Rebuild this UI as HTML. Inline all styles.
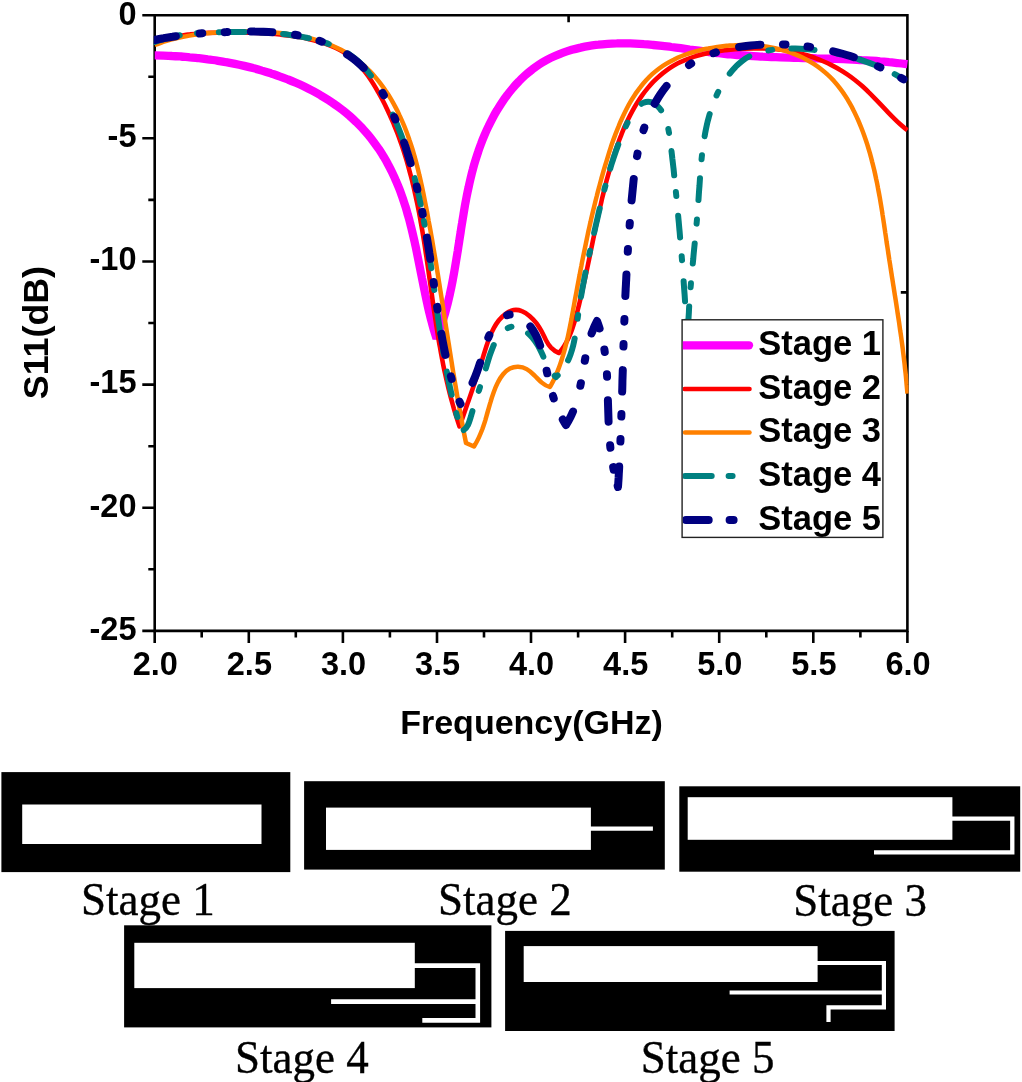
<!DOCTYPE html>
<html><head><meta charset="utf-8"><title>S11 vs Frequency</title>
<style>
html,body{margin:0;padding:0;background:#fff;}
body{width:1022px;height:1082px;overflow:hidden;position:relative;}
svg{position:absolute;left:0;top:0;display:block;}
.ax{font-family:"Liberation Sans",Arial,sans-serif;font-weight:bold;fill:#000;}
.st{font-family:"Liberation Serif","Times New Roman",serif;fill:#000;}
</style></head><body>
<svg width="1022" height="1082" viewBox="0 0 1022 1082">
<rect x="0" y="0" width="1022" height="1082" fill="#fff"/>
<defs><clipPath id="plot"><rect x="153.8" y="14" width="754.8" height="618"/></clipPath></defs>
<g stroke="#000" stroke-width="2.6" fill="none" stroke-linecap="butt">
<path d="M154.7 15.2 H907.4 V630.9 H154.7 Z"/>
<path d="M142.3 15.2 H154.7 M142.3 138.3 H154.7 M142.3 261.5 H154.7 M142.3 384.6 H154.7 M142.3 507.8 H154.7 M142.3 630.9 H154.7 M148.3 76.8 H154.7 M148.3 199.9 H154.7 M148.3 323.0 H154.7 M148.3 446.2 H154.7 M148.3 569.3 H154.7 M154.7 630.9 V643 M248.8 630.9 V643 M342.9 630.9 V643 M437.0 630.9 V643 M531.0 630.9 V643 M625.1 630.9 V643 M719.2 630.9 V643 M813.3 630.9 V643 M907.4 630.9 V643 M201.7 630.9 V637.6 M295.8 630.9 V637.6 M389.9 630.9 V637.6 M484.0 630.9 V637.6 M578.1 630.9 V637.6 M672.2 630.9 V637.6 M766.3 630.9 V637.6 M860.4 630.9 V637.6 M568.6 15.2 V22.3 M900.8 292.4 H907.4"/>
</g>
<g clip-path="url(#plot)" fill="none" stroke-linejoin="round">
<path d="M154.7 55.4C157.5 55.4 160.4 55.5 163.3 55.6C166.2 55.7 169.1 55.8 172.0 56.0C175.0 56.1 177.9 56.3 180.9 56.5C183.8 56.8 186.8 57.0 189.8 57.3C192.8 57.5 195.8 57.9 198.8 58.2C201.8 58.5 204.8 58.9 207.8 59.3C210.9 59.7 213.9 60.2 216.9 60.6C219.9 61.1 223.0 61.6 226.0 62.2C229.0 62.7 232.0 63.3 235.0 63.9C238.0 64.5 241.1 65.2 244.1 65.9C247.1 66.6 250.1 67.3 253.0 68.1C256.0 68.9 259.0 69.7 261.9 70.6C264.9 71.5 267.8 72.4 270.8 73.3C273.7 74.3 276.6 75.2 279.5 76.3C282.3 77.3 285.2 78.4 288.0 79.5C290.9 80.6 293.7 81.8 296.5 83.0C299.2 84.2 302.0 85.5 304.7 86.8C307.4 88.1 310.1 89.5 312.8 90.9C315.4 92.3 318.1 93.8 320.6 95.3C323.2 96.8 325.8 98.4 328.3 100.0C330.8 101.6 333.2 103.3 335.6 105.0C338.1 106.7 340.4 108.5 342.8 110.3C345.1 112.1 347.4 114.0 349.6 115.9C351.8 117.9 354.0 119.9 356.1 121.9C358.2 124.0 360.3 126.1 362.3 128.2C364.3 130.4 366.3 132.6 368.2 134.9C370.1 137.2 371.9 139.5 373.7 141.9C375.5 144.3 377.2 146.7 378.9 149.1C380.5 151.6 382.1 154.1 383.7 156.7C385.2 159.2 386.7 161.8 388.1 164.5C389.5 167.1 390.9 169.8 392.2 172.5C393.5 175.2 394.8 177.9 395.9 180.7C397.1 183.5 398.3 186.3 399.4 189.1C400.5 191.9 401.5 194.8 402.5 197.6C403.5 200.5 404.4 203.4 405.4 206.3C406.3 209.2 407.1 212.1 407.9 215.1C408.8 218.0 409.6 220.9 410.3 223.9C411.1 226.8 411.8 229.8 412.5 232.8C413.2 235.8 413.9 238.8 414.6 241.7C415.2 244.7 415.9 247.7 416.5 250.7C417.1 253.7 417.7 256.7 418.3 259.7C418.9 262.7 419.5 265.7 420.1 268.7C420.7 271.7 421.3 274.7 421.9 277.7C422.5 280.7 423.1 283.6 423.7 286.6C424.3 289.6 424.9 292.5 425.5 295.5C426.1 298.4 426.7 301.4 427.4 304.3C428.0 307.2 428.7 310.1 429.4 313.0C430.1 315.9 430.8 318.8 431.6 321.6C432.3 324.5 433.1 327.3 433.9 330.1C434.8 333.0 435.6 335.7 436.5 338.5C437.6 335.7 438.7 332.9 439.7 330.1C440.7 327.2 441.7 324.4 442.6 321.5C443.5 318.7 444.3 315.8 445.2 312.9C446.0 310.0 446.7 307.1 447.5 304.2C448.2 301.3 448.9 298.3 449.6 295.4C450.2 292.4 450.9 289.5 451.5 286.5C452.1 283.5 452.7 280.6 453.2 277.6C453.8 274.6 454.3 271.6 454.8 268.6C455.3 265.6 455.8 262.6 456.3 259.6C456.8 256.6 457.3 253.6 457.8 250.6C458.2 247.6 458.7 244.5 459.2 241.5C459.6 238.5 460.1 235.5 460.6 232.5C461.0 229.4 461.5 226.4 462.0 223.4C462.5 220.4 463.0 217.4 463.5 214.3C464.0 211.3 464.5 208.3 465.0 205.3C465.6 202.3 466.1 199.3 466.7 196.3C467.3 193.3 467.9 190.3 468.6 187.3C469.2 184.4 469.9 181.4 470.6 178.4C471.3 175.5 472.0 172.5 472.8 169.6C473.6 166.6 474.4 163.7 475.3 160.8C476.2 157.9 477.1 155.0 478.1 152.1C479.0 149.2 480.1 146.3 481.2 143.4C482.2 140.6 483.4 137.7 484.6 134.9C485.8 132.1 487.0 129.3 488.4 126.5C489.7 123.8 491.1 121.0 492.5 118.3C493.9 115.6 495.4 112.9 497.0 110.3C498.6 107.7 500.2 105.1 501.9 102.6C503.6 100.1 505.3 97.6 507.2 95.2C509.0 92.7 510.8 90.4 512.8 88.1C514.7 85.8 516.7 83.6 518.8 81.5C520.9 79.3 523.0 77.3 525.2 75.3C527.4 73.3 529.7 71.4 532.1 69.6C534.4 67.8 536.8 66.1 539.3 64.4C541.7 62.8 544.3 61.3 546.9 59.9C549.5 58.5 552.2 57.2 554.9 56.0C557.6 54.8 560.4 53.6 563.2 52.6C566.0 51.6 568.9 50.7 571.8 49.8C574.7 49.0 577.6 48.3 580.6 47.6C583.5 46.9 586.5 46.3 589.5 45.8C592.5 45.4 595.5 44.9 598.6 44.6C601.6 44.2 604.6 44.0 607.6 43.8C610.6 43.6 613.7 43.4 616.7 43.4C619.7 43.3 622.8 43.3 625.8 43.3C628.8 43.4 631.9 43.5 634.9 43.6C637.9 43.8 641.0 44.0 644.0 44.2C647.1 44.4 650.1 44.7 653.2 45.0C656.2 45.3 659.2 45.6 662.3 45.9C665.3 46.3 668.4 46.6 671.4 47.0C674.5 47.4 677.5 47.8 680.6 48.2C683.6 48.6 686.7 49.1 689.7 49.5C692.7 49.9 695.8 50.3 698.8 50.7C701.9 51.1 704.9 51.5 707.9 51.9C711.0 52.3 714.0 52.7 717.0 53.0C720.1 53.4 723.1 53.7 726.1 54.0C729.2 54.3 732.2 54.5 735.2 54.8C738.2 55.0 741.3 55.3 744.3 55.5C747.3 55.7 750.3 55.9 753.3 56.1C756.3 56.3 759.4 56.4 762.4 56.6C765.4 56.7 768.4 56.8 771.4 57.0C774.4 57.1 777.4 57.2 780.4 57.3C783.5 57.4 786.5 57.5 789.5 57.6C792.5 57.7 795.5 57.8 798.5 57.9C801.5 58.0 804.5 58.0 807.5 58.1C810.5 58.2 813.6 58.3 816.6 58.4C819.6 58.4 822.6 58.5 825.6 58.6C828.6 58.7 831.6 58.8 834.6 58.9C837.7 59.0 840.7 59.1 843.7 59.2C846.7 59.4 849.7 59.5 852.7 59.6C855.8 59.8 858.8 59.9 861.8 60.1C864.8 60.3 867.9 60.5 870.9 60.7C873.9 60.9 877.0 61.1 880.0 61.4C883.0 61.6 886.1 61.9 889.1 62.2C892.2 62.4 895.2 62.8 898.2 63.1C901.3 63.4 904.3 63.8 907.4 64.2" stroke="#ff00ff" stroke-width="8.3" stroke-linejoin="bevel"/>
<path d="M154.7 43.0C157.5 41.8 160.4 40.8 163.3 39.9C166.2 39.0 169.1 38.2 172.1 37.5C175.0 36.8 178.0 36.2 181.0 35.7C184.0 35.2 187.0 34.7 190.0 34.4C193.0 34.0 196.1 33.7 199.1 33.5C202.2 33.2 205.2 33.1 208.3 32.9C211.3 32.8 214.4 32.7 217.4 32.7C220.5 32.6 223.5 32.6 226.5 32.6C229.6 32.5 232.6 32.5 235.6 32.6C238.7 32.6 241.7 32.6 244.7 32.6C247.7 32.7 250.7 32.8 253.7 32.8C256.7 32.9 259.7 33.1 262.7 33.2C265.8 33.4 268.8 33.5 271.8 33.8C274.8 34.0 277.8 34.3 280.9 34.6C283.9 34.9 287.0 35.3 290.0 35.7C293.1 36.1 296.1 36.6 299.2 37.1C302.3 37.6 305.3 38.2 308.4 38.9C311.4 39.6 314.4 40.3 317.4 41.2C320.4 42.0 323.3 43.0 326.2 44.0C329.1 45.0 331.9 46.2 334.6 47.5C337.4 48.7 340.0 50.1 342.6 51.6C345.2 53.1 347.7 54.8 350.0 56.5C352.4 58.3 354.7 60.3 356.8 62.3C358.9 64.4 360.9 66.6 362.8 69.0C364.7 71.3 366.6 73.8 368.3 76.3C370.0 78.8 371.7 81.3 373.3 83.9C374.9 86.5 376.5 89.2 378.0 91.8C379.5 94.5 381.0 97.1 382.4 99.8C383.8 102.5 385.2 105.2 386.5 107.9C387.8 110.7 389.1 113.4 390.3 116.2C391.6 119.0 392.8 121.7 393.9 124.5C395.1 127.3 396.2 130.2 397.3 133.0C398.4 135.8 399.4 138.7 400.4 141.5C401.5 144.4 402.4 147.3 403.4 150.2C404.3 153.0 405.2 155.9 406.1 158.9C407.0 161.8 407.8 164.7 408.6 167.6C409.4 170.6 410.2 173.5 411.0 176.5C411.8 179.4 412.5 182.4 413.2 185.3C413.9 188.3 414.6 191.3 415.2 194.3C415.9 197.2 416.5 200.2 417.2 203.2C417.8 206.2 418.4 209.2 419.0 212.2C419.5 215.2 420.1 218.2 420.6 221.2C421.2 224.2 421.7 227.2 422.2 230.2C422.7 233.2 423.2 236.2 423.7 239.2C424.2 242.2 424.7 245.2 425.1 248.3C425.6 251.3 426.0 254.3 426.5 257.3C426.9 260.3 427.4 263.3 427.8 266.3C428.3 269.4 428.7 272.4 429.1 275.4C429.5 278.4 430.0 281.4 430.4 284.4C430.8 287.4 431.2 290.5 431.7 293.5C432.1 296.5 432.5 299.5 432.9 302.5C433.4 305.5 433.8 308.5 434.2 311.5C434.7 314.5 435.1 317.5 435.6 320.5C436.0 323.5 436.5 326.5 437.0 329.5C437.5 332.5 437.9 335.5 438.4 338.5C438.9 341.5 439.4 344.4 440.0 347.4C440.5 350.4 441.0 353.4 441.6 356.3C442.2 359.3 442.7 362.3 443.3 365.2C443.9 368.2 444.5 371.1 445.2 374.1C445.8 377.0 446.5 380.0 447.2 382.9C447.8 385.8 448.5 388.8 449.3 391.7C450.0 394.6 450.8 397.5 451.6 400.4C452.4 403.3 453.2 406.2 454.0 409.1C454.9 412.0 455.7 414.9 456.7 417.8C457.6 420.7 458.5 423.5 459.5 426.4C460.6 423.4 461.7 420.3 462.7 417.4C463.8 414.4 464.8 411.5 465.8 408.6C466.8 405.6 467.8 402.8 468.8 399.9C469.8 397.0 470.8 394.1 471.8 391.2C472.8 388.4 473.8 385.5 474.7 382.6C475.7 379.7 476.7 376.8 477.6 373.8C478.6 370.9 479.6 367.9 480.5 364.9C481.5 361.9 482.5 358.9 483.4 355.8C484.4 352.7 485.4 349.5 486.4 346.3C487.4 343.2 488.5 340.0 489.7 337.0C490.9 333.9 492.3 331.0 493.8 328.2C495.3 325.3 497.0 322.7 498.9 320.3C500.9 317.9 503.1 315.7 505.6 313.9C508.0 312.1 510.8 310.6 513.6 310.1C516.3 309.6 519.1 310.0 521.8 311.1C524.5 312.1 527.1 313.8 529.5 315.9C532.0 318.0 534.3 320.5 536.4 323.2C538.4 326.0 540.2 328.9 541.8 331.7C543.3 334.6 544.6 337.5 546.0 340.2C547.4 342.9 549.0 345.4 551.0 347.6C553.1 349.8 555.6 351.6 559.0 353.0C560.9 350.8 562.6 348.5 564.2 346.0C565.7 343.6 567.1 341.0 568.4 338.3C569.7 335.6 570.8 332.8 571.9 329.9C572.9 327.1 573.8 324.1 574.7 321.2C575.6 318.2 576.4 315.2 577.2 312.2C577.9 309.2 578.7 306.2 579.4 303.2C580.1 300.3 580.8 297.3 581.5 294.3C582.2 291.4 582.8 288.4 583.5 285.5C584.1 282.5 584.8 279.6 585.4 276.7C586.0 273.7 586.7 270.8 587.3 267.9C587.9 265.0 588.5 262.1 589.1 259.2C589.7 256.3 590.3 253.4 590.9 250.5C591.5 247.6 592.1 244.7 592.7 241.8C593.3 238.9 593.9 236.0 594.5 233.1C595.1 230.2 595.7 227.3 596.3 224.3C596.9 221.4 597.6 218.5 598.2 215.6C598.9 212.7 599.5 209.8 600.2 206.8C600.9 203.9 601.5 201.0 602.2 198.0C602.9 195.1 603.7 192.1 604.4 189.2C605.2 186.2 605.9 183.2 606.7 180.2C607.5 177.3 608.3 174.3 609.2 171.3C610.0 168.3 610.9 165.3 611.8 162.3C612.7 159.3 613.6 156.3 614.6 153.3C615.6 150.3 616.6 147.3 617.7 144.4C618.7 141.4 619.8 138.5 621.0 135.6C622.1 132.7 623.3 129.9 624.5 127.0C625.8 124.2 627.1 121.4 628.4 118.7C629.8 115.9 631.2 113.2 632.6 110.6C634.1 107.9 635.6 105.3 637.2 102.8C638.8 100.3 640.4 97.8 642.1 95.4C643.8 93.0 645.6 90.7 647.5 88.4C649.3 86.2 651.2 84.0 653.2 81.9C655.2 79.9 657.3 77.9 659.5 76.0C661.6 74.1 663.9 72.3 666.2 70.6C668.5 68.9 670.9 67.3 673.4 65.8C675.9 64.3 678.5 62.9 681.2 61.7C683.8 60.4 686.6 59.3 689.4 58.3C692.3 57.2 695.2 56.3 698.1 55.5C701.1 54.6 704.1 53.9 707.2 53.2C710.2 52.6 713.3 52.0 716.4 51.5C719.5 51.0 722.7 50.6 725.8 50.2C729.0 49.9 732.1 49.6 735.2 49.3C738.4 49.1 741.5 48.9 744.6 48.7C747.7 48.6 750.8 48.5 753.8 48.4C756.9 48.4 759.9 48.4 762.9 48.5C765.9 48.6 768.9 48.7 771.9 48.9C774.9 49.1 777.9 49.4 780.8 49.8C783.8 50.1 786.7 50.6 789.6 51.1C792.6 51.6 795.5 52.2 798.4 52.9C801.2 53.6 804.1 54.4 807.0 55.2C809.8 56.1 812.7 57.0 815.5 58.1C818.3 59.1 821.1 60.3 823.8 61.5C826.6 62.7 829.3 64.0 832.0 65.4C834.7 66.8 837.3 68.2 839.9 69.8C842.5 71.3 845.1 73.0 847.6 74.7C850.1 76.4 852.5 78.2 854.9 80.0C857.3 81.9 859.6 83.8 861.9 85.8C864.2 87.9 866.4 89.9 868.6 92.1C870.8 94.2 872.9 96.4 875.0 98.6C877.1 100.8 879.2 103.0 881.3 105.2C883.4 107.4 885.5 109.6 887.6 111.8C889.7 114.0 891.8 116.2 894.0 118.3C896.1 120.4 898.3 122.5 900.5 124.5C902.8 126.5 905.1 128.5 907.4 130.3" stroke="#ff0000" stroke-width="4.6"/>
<path d="M154.7 45.0C157.5 43.9 160.4 42.9 163.2 41.9C166.1 41.0 169.0 40.1 171.9 39.4C174.8 38.6 177.7 37.9 180.6 37.3C183.5 36.6 186.4 36.1 189.4 35.6C192.3 35.1 195.3 34.6 198.2 34.2C201.2 33.8 204.2 33.5 207.1 33.2C210.1 32.9 213.1 32.6 216.1 32.4C219.1 32.2 222.1 32.0 225.1 31.9C228.2 31.8 231.2 31.6 234.2 31.6C237.3 31.5 240.3 31.4 243.3 31.4C246.4 31.3 249.4 31.4 252.5 31.4C255.5 31.4 258.6 31.5 261.6 31.7C264.7 31.8 267.8 32.0 270.8 32.2C273.9 32.4 276.9 32.7 279.9 33.0C283.0 33.3 286.0 33.7 289.0 34.2C292.1 34.6 295.1 35.1 298.1 35.7C301.1 36.2 304.1 36.9 307.1 37.6C310.0 38.3 313.0 39.0 315.9 39.9C318.8 40.7 321.7 41.7 324.5 42.7C327.3 43.7 330.1 44.8 332.9 46.0C335.6 47.1 338.3 48.4 341.0 49.8C343.6 51.1 346.2 52.6 348.7 54.1C351.2 55.7 353.7 57.3 356.1 59.1C358.5 60.9 360.8 62.7 363.0 64.7C365.2 66.6 367.4 68.7 369.5 70.8C371.5 72.9 373.6 75.1 375.5 77.4C377.4 79.6 379.3 81.9 381.1 84.3C382.9 86.7 384.6 89.1 386.2 91.6C387.9 94.0 389.5 96.5 391.0 99.1C392.5 101.6 393.9 104.2 395.3 106.9C396.7 109.5 398.1 112.2 399.3 114.9C400.6 117.6 401.8 120.3 403.0 123.1C404.2 125.8 405.3 128.6 406.4 131.5C407.4 134.3 408.5 137.1 409.4 140.0C410.4 142.9 411.4 145.8 412.3 148.7C413.2 151.6 414.0 154.6 414.9 157.5C415.7 160.5 416.5 163.4 417.2 166.4C418.0 169.4 418.7 172.4 419.4 175.4C420.2 178.4 420.8 181.4 421.5 184.4C422.2 187.4 422.8 190.5 423.4 193.5C424.0 196.5 424.6 199.5 425.2 202.6C425.8 205.6 426.4 208.6 427.0 211.6C427.5 214.6 428.1 217.6 428.6 220.6C429.2 223.6 429.7 226.6 430.3 229.6C430.8 232.6 431.3 235.6 431.9 238.6C432.4 241.6 432.9 244.5 433.4 247.5C433.9 250.5 434.4 253.5 434.9 256.4C435.4 259.4 435.9 262.4 436.4 265.3C436.8 268.3 437.3 271.3 437.8 274.2C438.3 277.2 438.7 280.1 439.2 283.1C439.7 286.0 440.1 289.0 440.6 291.9C441.1 294.9 441.5 297.8 442.0 300.8C442.5 303.7 442.9 306.7 443.4 309.6C443.8 312.6 444.3 315.5 444.7 318.4C445.2 321.4 445.6 324.3 446.1 327.3C446.6 330.2 447.0 333.2 447.5 336.1C447.9 339.0 448.4 342.0 448.9 344.9C449.3 347.9 449.8 350.8 450.3 353.8C450.7 356.7 451.2 359.7 451.7 362.6C452.1 365.6 452.6 368.5 453.1 371.5C453.6 374.4 454.1 377.4 454.6 380.3C455.1 383.3 455.6 386.3 456.1 389.2C456.6 392.2 457.1 395.2 457.6 398.1C458.1 401.1 458.7 404.1 459.2 407.0C459.7 410.0 460.3 413.0 460.8 416.0C461.4 419.0 461.9 422.0 462.5 425.0C463.0 428.0 463.6 431.0 464.2 434.0C464.8 437.0 465.4 440.0 466.0 443.0L474.0 446.5C475.8 443.5 477.4 440.6 478.8 437.6C480.1 434.7 481.3 431.8 482.4 429.0C483.4 426.1 484.4 423.2 485.3 420.3C486.1 417.3 487.0 414.4 487.8 411.4C488.7 408.3 489.5 405.3 490.5 402.1C491.4 398.9 492.5 395.5 493.7 392.2C494.9 388.9 496.2 385.6 497.8 382.5C499.3 379.4 501.1 376.6 503.1 374.2C505.1 371.8 507.4 369.9 509.9 368.6C512.5 367.3 515.3 366.7 518.2 366.8C521.1 366.9 524.0 367.6 526.7 369.1C529.4 370.6 532.0 372.9 534.4 375.4C536.9 377.8 539.3 380.5 541.8 382.6C544.4 384.8 547.0 386.4 550.0 387.0C551.4 384.5 552.8 381.9 554.1 379.3C555.3 376.6 556.5 373.9 557.6 371.2C558.7 368.5 559.7 365.7 560.6 362.9C561.6 360.1 562.5 357.2 563.3 354.4C564.2 351.5 564.9 348.6 565.7 345.7C566.4 342.8 567.1 339.8 567.8 336.9C568.5 333.9 569.1 330.9 569.7 327.9C570.3 325.0 570.9 322.0 571.5 319.0C572.0 316.0 572.6 313.0 573.1 310.0C573.7 307.0 574.2 304.0 574.7 301.0C575.3 298.1 575.8 295.1 576.4 292.1C576.9 289.2 577.5 286.2 578.0 283.3C578.6 280.3 579.1 277.4 579.7 274.5C580.2 271.5 580.8 268.6 581.4 265.7C581.9 262.8 582.5 259.9 583.1 256.9C583.7 254.0 584.3 251.1 584.9 248.2C585.5 245.3 586.1 242.4 586.7 239.5C587.3 236.6 587.9 233.7 588.5 230.8C589.2 227.9 589.8 225.0 590.5 222.1C591.1 219.2 591.8 216.3 592.5 213.4C593.2 210.5 593.9 207.6 594.6 204.7C595.3 201.8 596.0 198.9 596.8 196.0C597.5 193.1 598.3 190.1 599.1 187.2C599.8 184.3 600.6 181.4 601.4 178.5C602.3 175.5 603.1 172.6 603.9 169.7C604.8 166.7 605.7 163.8 606.6 160.8C607.5 157.9 608.4 154.9 609.3 151.9C610.3 149.0 611.2 146.0 612.2 143.1C613.2 140.2 614.3 137.3 615.4 134.4C616.5 131.5 617.6 128.6 618.8 125.8C619.9 122.9 621.1 120.1 622.4 117.4C623.7 114.6 625.0 111.9 626.4 109.2C627.8 106.5 629.2 103.9 630.7 101.4C632.2 98.8 633.8 96.3 635.4 93.9C637.1 91.5 638.8 89.1 640.6 86.8C642.3 84.5 644.2 82.3 646.1 80.2C648.1 78.1 650.1 76.1 652.2 74.2C654.3 72.3 656.5 70.4 658.8 68.7C661.1 67.0 663.5 65.4 666.0 63.9C668.5 62.4 671.1 61.0 673.7 59.7C676.3 58.3 679.0 57.1 681.8 56.0C684.6 54.9 687.4 53.9 690.3 53.0C693.2 52.1 696.1 51.2 699.1 50.5C702.1 49.7 705.1 49.0 708.1 48.5C711.1 47.9 714.2 47.4 717.3 46.9C720.4 46.5 723.5 46.1 726.6 45.8C729.6 45.6 732.7 45.3 735.8 45.2C739.0 45.1 742.0 45.0 745.1 45.1C748.2 45.1 751.3 45.2 754.4 45.4C757.4 45.6 760.5 45.9 763.5 46.3C766.5 46.7 769.5 47.2 772.5 47.7C775.5 48.3 778.4 49.0 781.3 49.7C784.2 50.5 787.1 51.4 789.9 52.3C792.7 53.3 795.4 54.4 798.2 55.6C800.9 56.7 803.5 58.0 806.1 59.4C808.7 60.8 811.3 62.3 813.7 63.9C816.2 65.5 818.6 67.2 820.9 69.0C823.2 70.8 825.5 72.7 827.6 74.7C829.8 76.7 831.9 78.8 833.9 80.9C835.9 83.1 837.8 85.4 839.6 87.8C841.4 90.1 843.1 92.5 844.7 95.0C846.4 97.5 848.0 100.1 849.4 102.7C850.9 105.3 852.4 108.0 853.7 110.7C855.1 113.4 856.3 116.2 857.6 118.9C858.8 121.7 860.0 124.5 861.1 127.3C862.2 130.1 863.3 132.9 864.3 135.7C865.3 138.5 866.2 141.4 867.2 144.3C868.1 147.1 868.9 150.0 869.8 152.9C870.6 155.8 871.4 158.7 872.1 161.6C872.9 164.5 873.6 167.5 874.3 170.4C875.0 173.4 875.6 176.3 876.2 179.3C876.9 182.2 877.5 185.2 878.0 188.2C878.6 191.1 879.1 194.1 879.7 197.1C880.2 200.1 880.7 203.1 881.2 206.1C881.7 209.0 882.2 212.0 882.6 215.0C883.1 218.0 883.5 221.0 884.0 224.0C884.4 227.0 884.9 230.0 885.3 233.0C885.8 236.0 886.2 239.0 886.6 242.0C887.1 244.9 887.5 247.9 888.0 250.9C888.4 253.9 888.9 256.8 889.3 259.8C889.8 262.8 890.3 265.7 890.7 268.7C891.2 271.7 891.6 274.6 892.1 277.6C892.6 280.5 893.0 283.5 893.5 286.4C894.0 289.4 894.4 292.3 894.9 295.3C895.4 298.2 895.8 301.2 896.3 304.1C896.7 307.0 897.2 310.0 897.6 312.9C898.1 315.9 898.5 318.8 899.0 321.8C899.4 324.7 899.8 327.7 900.2 330.7C900.7 333.6 901.1 336.6 901.5 339.5C901.9 342.5 902.3 345.5 902.7 348.4C903.0 351.4 903.4 354.4 903.8 357.4C904.1 360.4 904.5 363.3 904.8 366.3C905.1 369.3 905.5 372.3 905.8 375.3C906.1 378.4 906.4 381.4 906.6 384.4C906.9 387.4 907.2 390.5 907.4 393.5" stroke="#ff8000" stroke-width="4.5"/>
<path d="M154.7 42.0C157.5 40.9 160.4 40.0 163.3 39.1C166.2 38.3 169.1 37.5 172.1 36.8C175.0 36.2 178.0 35.6 181.0 35.1C184.0 34.6 187.0 34.2 190.0 33.9C193.1 33.5 196.1 33.3 199.2 33.0C202.2 32.8 205.3 32.6 208.3 32.5C211.4 32.4 214.4 32.3 217.5 32.2C220.5 32.1 223.6 32.1 226.6 32.1C229.6 32.0 232.7 32.0 235.7 32.0C238.7 32.0 241.7 32.0 244.7 32.1C247.6 32.1 250.6 32.1 253.6 32.2C256.6 32.3 259.6 32.4 262.6 32.5C265.5 32.7 268.5 32.8 271.5 33.1C274.5 33.3 277.5 33.5 280.5 33.8C283.5 34.1 286.6 34.5 289.6 34.9C292.6 35.3 295.7 35.7 298.8 36.2C301.8 36.7 304.9 37.3 307.9 38.0C311.0 38.6 314.0 39.4 317.0 40.2C319.9 41.0 322.9 41.9 325.8 42.9C328.7 43.9 331.6 45.0 334.4 46.2C337.1 47.4 339.9 48.7 342.5 50.2C345.1 51.6 347.7 53.2 350.1 54.9C352.6 56.6 354.9 58.4 357.2 60.3C359.4 62.3 361.5 64.4 363.5 66.6C365.6 68.8 367.5 71.1 369.3 73.5C371.2 75.9 372.9 78.4 374.6 81.0C376.3 83.5 377.9 86.1 379.4 88.8C381.0 91.4 382.5 94.1 383.9 96.8C385.4 99.5 386.8 102.2 388.1 104.9C389.5 107.6 390.8 110.4 392.1 113.1C393.4 115.9 394.6 118.6 395.8 121.4C397.0 124.2 398.1 127.0 399.2 129.8C400.3 132.6 401.4 135.4 402.4 138.3C403.5 141.1 404.5 143.9 405.4 146.8C406.4 149.7 407.3 152.5 408.2 155.4C409.1 158.3 410.0 161.2 410.9 164.1C411.7 167.0 412.5 169.9 413.3 172.8C414.1 175.7 414.8 178.6 415.5 181.6C416.3 184.5 417.0 187.5 417.6 190.4C418.3 193.4 419.0 196.3 419.6 199.3C420.2 202.2 420.8 205.2 421.4 208.2C422.0 211.2 422.6 214.2 423.2 217.1C423.7 220.1 424.2 223.1 424.8 226.1C425.3 229.1 425.8 232.1 426.3 235.1C426.8 238.1 427.3 241.1 427.7 244.2C428.2 247.2 428.7 250.2 429.1 253.2C429.6 256.2 430.0 259.2 430.4 262.3C430.9 265.3 431.3 268.3 431.7 271.3C432.1 274.3 432.5 277.4 432.9 280.4C433.4 283.4 433.8 286.4 434.2 289.4C434.6 292.4 435.0 295.5 435.4 298.5C435.8 301.5 436.2 304.5 436.6 307.5C437.0 310.5 437.5 313.5 437.9 316.6C438.3 319.6 438.7 322.6 439.2 325.6C439.6 328.6 440.0 331.6 440.5 334.6C440.9 337.6 441.4 340.5 441.9 343.5C442.4 346.5 442.8 349.5 443.3 352.5C443.8 355.4 444.3 358.4 444.9 361.4C445.4 364.3 445.9 367.3 446.5 370.3C447.1 373.2 447.6 376.2 448.2 379.1C448.8 382.0 449.5 385.0 450.1 387.9C450.7 390.8 451.4 393.7 452.1 396.6C452.8 399.6 453.5 402.5 454.2 405.4C455.0 408.2 455.7 411.1 456.5 414.0C457.3 416.9 458.1 419.8 459.1 422.6C460.0 425.4 461.1 428.1 462.5 430.7C465.0 429.6 466.7 427.5 468.0 424.9C469.3 422.3 470.1 419.2 471.0 416.2C471.8 413.2 472.7 410.3 473.6 407.4C474.5 404.5 475.4 401.7 476.2 398.9C477.1 396.1 478.0 393.3 478.9 390.5C479.8 387.7 480.7 384.9 481.6 382.1C482.5 379.3 483.4 376.4 484.3 373.5C485.2 370.6 486.1 367.6 487.0 364.5C487.9 361.4 488.8 358.3 489.8 355.3C490.9 352.2 492.0 349.2 493.2 346.3C494.5 343.4 495.9 340.7 497.5 338.2C499.1 335.7 501.0 333.4 503.1 331.4C505.3 329.5 507.6 327.9 510.1 327.1C512.6 326.4 515.2 326.5 517.8 327.3C520.4 328.0 523.0 329.4 525.5 331.3C528.0 333.1 530.3 335.3 532.5 337.8C534.6 340.3 536.5 343.0 538.1 345.7C539.6 348.4 540.9 351.2 542.2 354.0C543.4 356.8 544.6 359.5 545.8 362.2C547.1 364.9 548.4 367.5 550.1 370.0C551.7 372.5 553.6 374.9 556.0 377.0C558.4 374.8 560.4 372.5 562.2 370.1C564.1 367.6 565.6 365.1 567.0 362.5C568.4 359.9 569.5 357.2 570.5 354.4C571.5 351.6 572.4 348.8 573.1 345.9C573.8 343.0 574.4 340.0 574.9 337.0C575.5 334.0 575.9 331.0 576.3 328.0C576.8 324.9 577.2 321.9 577.6 318.8C578.0 315.8 578.4 312.7 578.9 309.7C579.4 306.7 579.8 303.6 580.3 300.6C580.8 297.6 581.4 294.6 581.9 291.5C582.4 288.5 583.0 285.5 583.6 282.5C584.1 279.5 584.7 276.5 585.3 273.5C585.9 270.5 586.5 267.5 587.1 264.5C587.8 261.5 588.4 258.6 589.0 255.6C589.7 252.6 590.3 249.7 591.0 246.7C591.6 243.7 592.3 240.8 593.0 237.8C593.6 234.9 594.3 232.0 595.0 229.0C595.6 226.1 596.3 223.2 597.0 220.2C597.7 217.3 598.3 214.4 599.0 211.5C599.7 208.6 600.4 205.7 601.1 202.8C601.8 199.9 602.5 197.0 603.2 194.1C603.9 191.2 604.7 188.3 605.5 185.4C606.2 182.5 607.0 179.6 607.8 176.7C608.6 173.8 609.5 170.9 610.4 168.0C611.2 165.1 612.2 162.2 613.1 159.3C614.1 156.4 615.1 153.5 616.1 150.5C617.2 147.6 618.2 144.7 619.4 141.8C620.5 138.8 621.7 135.9 623.0 132.9C624.2 130.0 625.5 127.0 626.9 124.0C628.3 121.1 629.7 118.1 631.3 115.3C632.9 112.5 634.6 109.9 636.7 107.7C638.7 105.6 641.0 103.8 643.5 102.8C646.0 101.7 648.7 101.5 651.1 102.2C653.6 103.0 655.9 104.6 657.8 106.4C659.7 108.2 661.3 110.4 662.7 112.8C664.1 115.3 665.2 118.0 666.1 120.9C667.1 123.7 667.9 126.8 668.5 130.0C669.1 133.2 669.7 136.4 670.1 139.7C670.6 143.0 671.0 146.3 671.3 149.5C671.7 152.8 672.1 155.9 672.4 159.1C672.8 162.2 673.1 165.3 673.5 168.3C673.8 171.4 674.1 174.4 674.4 177.3C674.8 180.3 675.1 183.3 675.3 186.2C675.6 189.2 675.9 192.1 676.2 195.0C676.5 197.9 676.8 200.9 677.1 203.8C677.3 206.7 677.6 209.6 677.9 212.6C678.1 215.5 678.4 218.5 678.7 221.5C679.0 224.5 679.2 227.4 679.5 230.4C679.8 233.4 680.0 236.5 680.3 239.5C680.5 242.5 680.8 245.5 681.0 248.6C681.3 251.6 681.6 254.7 681.8 257.7C682.1 260.8 682.3 263.8 682.5 266.9C682.8 270.0 683.0 273.0 683.2 276.1C683.5 279.2 683.7 282.2 683.9 285.3C684.1 288.4 684.4 291.5 684.6 294.5C684.8 297.6 685.0 300.7 685.2 303.7C685.4 306.8 685.6 309.9 685.8 312.9C686.0 316.0 686.1 319.0 686.3 322.1C686.5 325.1 686.6 328.1 686.8 331.1C687.0 334.2 687.1 337.2 687.3 340.2C687.4 343.2 687.5 346.2 687.7 349.1C687.8 352.1 687.9 355.1 688.0 358.0C687.9 354.9 687.9 351.8 687.9 348.6C687.8 345.5 687.9 342.5 687.9 339.4C687.9 336.3 688.0 333.3 688.1 330.2C688.2 327.2 688.3 324.1 688.4 321.1C688.5 318.1 688.7 315.1 688.9 312.1C689.0 309.0 689.2 306.0 689.4 303.1C689.6 300.1 689.8 297.1 690.1 294.1C690.3 291.1 690.5 288.1 690.8 285.2C691.0 282.2 691.3 279.2 691.6 276.2C691.8 273.3 692.1 270.3 692.4 267.3C692.7 264.4 693.0 261.4 693.3 258.4C693.5 255.4 693.8 252.5 694.1 249.5C694.4 246.5 694.7 243.5 695.0 240.5C695.3 237.5 695.6 234.5 695.9 231.5C696.1 228.5 696.4 225.5 696.7 222.5C697.0 219.4 697.2 216.4 697.5 213.4C697.7 210.3 698.0 207.3 698.2 204.2C698.4 201.1 698.6 198.0 698.8 194.9C699.0 191.9 699.2 188.7 699.5 185.6C699.7 182.5 699.9 179.4 700.1 176.3C700.3 173.2 700.6 170.1 700.8 167.0C701.1 163.9 701.4 160.8 701.7 157.7C702.0 154.7 702.4 151.6 702.8 148.5C703.2 145.5 703.6 142.4 704.1 139.4C704.6 136.4 705.1 133.4 705.7 130.4C706.3 127.5 706.9 124.5 707.6 121.6C708.4 118.7 709.1 115.8 710.0 113.0C710.9 110.1 711.8 107.3 712.8 104.5C713.8 101.8 714.9 99.0 716.1 96.4C717.3 93.7 718.6 91.0 720.0 88.4C721.4 85.9 722.9 83.3 724.5 80.8C726.2 78.3 727.9 75.9 729.7 73.6C731.6 71.2 733.5 68.9 735.6 66.8C737.7 64.6 740.0 62.6 742.3 60.8C744.7 59.0 747.2 57.4 749.9 56.1C752.6 54.7 755.4 53.6 758.3 52.7C761.3 51.9 764.3 51.2 767.4 50.6C770.4 50.1 773.5 49.7 776.6 49.4C779.6 49.0 782.7 48.8 785.8 48.7C788.9 48.6 792.0 48.6 795.1 48.6C798.1 48.7 801.2 48.8 804.3 49.0C807.3 49.2 810.4 49.5 813.4 49.8C816.5 50.2 819.5 50.6 822.5 51.0C825.5 51.4 828.5 51.9 831.5 52.5C834.5 53.0 837.5 53.6 840.4 54.3C843.3 55.0 846.3 55.7 849.2 56.5C852.1 57.2 855.0 58.1 857.9 59.0C860.7 59.8 863.6 60.8 866.4 61.8C869.3 62.8 872.1 63.9 874.9 65.0C877.7 66.1 880.4 67.3 883.2 68.6C885.9 69.8 888.7 71.1 891.4 72.5C894.1 73.9 896.8 75.3 899.5 76.8C902.1 78.3 904.8 79.9 907.4 81.5" stroke="#008080" stroke-width="6" stroke-linecap="round" stroke-dasharray="26.0 17.4 4.0 17.8 26.0 16.2 4.0 18.2 26.2 16.6 4.0 21.2 32.2 20.2 4.0 20.6 26.4 14.8 4.0 22.2 27.0 16.6 4.0 19.4 24.6 18.0 4.0 18.4 25.4 17.2 4.0 17.6 23.6 19.0 4.0 16.0 21.2 21.2 4.0 19.6 24.6 22.4 4.0 18.4 28.0 22.4 4.0 18.4 23.0 19.8 4.0 18.2 24.8 18.2 4.0 18.4 25.0 19.4 4.0 17.8 25.4 19.8 4.0 23.8 23.0 20.2 4.0 18.2 24.4 16.8 4.0 20.0 21.6 18.8 4.0 21.2 20.0 20.2 4.0 20.0 24.0 2.0 4.0 10.2 24.0 19.2 4.0 20.0 20.0 20.0 4.0 19.6 22.0 19.0 4.0 19.2 22.8 19.8 4.0 21.6 26.2 20.0 4.0 19.2 23.2 22.0 4.0 16.4 24.0 17.8 4.0 5000.0"/>
<path d="M154.7 40.0C157.7 39.3 160.6 38.7 163.6 38.2C166.6 37.6 169.5 37.1 172.5 36.7C175.4 36.2 178.4 35.8 181.4 35.4C184.3 35.0 187.3 34.7 190.3 34.4C193.2 34.1 196.2 33.8 199.2 33.6C202.2 33.3 205.2 33.1 208.2 32.9C211.2 32.7 214.2 32.6 217.2 32.4C220.2 32.3 223.3 32.2 226.3 32.1C229.4 31.9 232.5 31.8 235.5 31.8C238.6 31.7 241.7 31.6 244.8 31.6C247.9 31.5 251.0 31.5 254.1 31.6C257.2 31.6 260.4 31.7 263.5 31.8C266.6 31.9 269.7 32.0 272.7 32.2C275.8 32.4 278.9 32.7 282.0 33.0C285.0 33.3 288.1 33.7 291.1 34.1C294.2 34.6 297.2 35.1 300.1 35.7C303.1 36.3 306.1 36.9 309.0 37.7C311.9 38.4 314.8 39.3 317.7 40.2C320.5 41.2 323.3 42.2 326.1 43.3C328.9 44.5 331.6 45.7 334.3 47.0C336.9 48.3 339.6 49.7 342.1 51.3C344.7 52.8 347.2 54.4 349.6 56.1C352.0 57.8 354.4 59.6 356.7 61.5C358.9 63.4 361.1 65.3 363.2 67.4C365.4 69.5 367.4 71.7 369.3 73.9C371.3 76.2 373.1 78.5 374.8 80.9C376.6 83.4 378.3 85.9 379.9 88.4C381.5 91.0 383.0 93.6 384.4 96.3C385.9 99.0 387.3 101.7 388.6 104.5C390.0 107.2 391.2 110.0 392.5 112.8C393.7 115.6 394.9 118.5 396.1 121.3C397.2 124.1 398.3 127.0 399.4 129.8C400.5 132.7 401.6 135.5 402.6 138.4C403.6 141.3 404.6 144.1 405.6 147.0C406.5 149.9 407.4 152.8 408.3 155.7C409.2 158.6 410.1 161.5 410.9 164.4C411.7 167.3 412.5 170.3 413.3 173.2C414.1 176.1 414.9 179.0 415.6 182.0C416.3 184.9 417.0 187.9 417.7 190.8C418.4 193.8 419.1 196.7 419.7 199.7C420.3 202.7 421.0 205.6 421.6 208.6C422.2 211.6 422.7 214.5 423.3 217.5C423.9 220.5 424.4 223.5 425.0 226.5C425.5 229.5 426.0 232.4 426.5 235.4C427.0 238.4 427.5 241.4 428.0 244.4C428.5 247.4 429.0 250.4 429.4 253.4C429.9 256.4 430.3 259.4 430.8 262.4C431.2 265.4 431.7 268.4 432.1 271.5C432.5 274.5 433.0 277.5 433.4 280.5C433.8 283.5 434.2 286.5 434.6 289.5C435.1 292.5 435.5 295.5 435.9 298.5C436.3 301.5 436.8 304.5 437.2 307.5C437.6 310.5 438.1 313.5 438.5 316.5C439.0 319.5 439.5 322.5 439.9 325.5C440.4 328.5 440.9 331.5 441.5 334.4C442.0 337.4 442.5 340.4 443.1 343.3C443.7 346.3 444.3 349.2 444.9 352.2C445.5 355.1 446.2 358.1 446.9 361.0C447.6 363.9 448.3 366.8 449.1 369.7C449.8 372.6 450.6 375.5 451.5 378.4C452.3 381.3 453.2 384.2 454.2 387.0C455.1 389.9 456.1 392.7 457.2 395.6C458.2 398.4 459.3 401.2 460.5 404.0C462.3 401.4 464.0 398.8 465.5 396.2C467.0 393.6 468.5 391.0 469.8 388.4C471.1 385.8 472.4 383.2 473.5 380.6C474.7 377.9 475.8 375.2 476.8 372.4C477.8 369.7 478.8 366.8 479.7 363.9C480.7 361.0 481.6 358.0 482.5 354.9C483.4 351.9 484.3 348.8 485.3 345.7C486.3 342.6 487.4 339.6 488.7 336.7C489.9 333.7 491.3 330.9 492.9 328.3C494.5 325.7 496.3 323.3 498.4 321.1C500.5 319.0 502.9 317.1 505.4 315.9C507.8 314.7 510.5 314.2 513.0 314.6C515.6 315.0 518.2 316.0 520.7 317.6C523.1 319.1 525.5 321.1 527.6 323.3C529.7 325.5 531.6 328.0 533.2 330.5C534.8 333.1 536.3 335.8 537.5 338.6C538.8 341.5 539.8 344.4 540.8 347.4C541.8 350.4 542.6 353.4 543.4 356.5C544.2 359.6 544.9 362.6 545.6 365.7C546.2 368.8 546.9 371.8 547.6 374.8C548.2 377.8 548.9 380.8 549.6 383.7C550.3 386.6 551.1 389.5 551.9 392.3C552.7 395.1 553.6 397.9 554.5 400.7C555.5 403.5 556.5 406.2 557.7 408.9C558.8 411.7 560.1 414.4 561.4 417.0C562.8 419.7 564.3 422.4 566.0 425.0C567.7 422.4 569.2 419.8 570.5 417.1C571.8 414.4 573.0 411.6 574.1 408.8C575.1 406.0 576.1 403.2 576.9 400.3C577.7 397.4 578.5 394.4 579.1 391.5C579.8 388.5 580.4 385.6 581.0 382.6C581.5 379.6 582.1 376.6 582.6 373.6C583.1 370.5 583.6 367.5 584.1 364.5C584.7 361.5 585.2 358.5 585.8 355.5C586.4 352.5 587.0 349.5 587.7 346.6C588.4 343.6 589.2 340.7 590.1 337.8C591.0 334.9 592.0 332.1 593.2 329.3C594.3 326.5 595.6 323.7 597.0 321.0C598.1 323.9 599.1 326.8 600.0 329.7C600.8 332.7 601.6 335.7 602.3 338.6C603.0 341.6 603.6 344.6 604.1 347.7C604.6 350.7 605.0 353.8 605.4 356.8C605.8 359.9 606.1 363.0 606.4 366.1C606.6 369.1 606.8 372.3 607.0 375.4C607.2 378.5 607.3 381.6 607.5 384.7C607.6 387.9 607.7 391.0 607.8 394.1C607.8 397.3 607.9 400.4 608.0 403.6C608.1 406.7 608.2 409.8 608.3 413.0C608.4 416.1 608.5 419.2 608.6 422.4C608.8 425.5 608.9 428.6 609.1 431.8C609.3 434.9 609.5 438.0 609.8 441.1C610.0 444.2 610.3 447.3 610.7 450.4C611.0 453.5 611.4 456.6 611.9 459.7C612.4 462.8 612.9 465.8 613.5 468.9C614.1 471.9 614.8 475.0 615.5 478.0C616.3 481.0 617.1 484.0 618.0 487.0C618.2 484.0 618.4 481.0 618.6 478.0C618.7 475.0 618.9 472.0 619.1 469.0C619.2 466.0 619.4 463.0 619.5 460.0C619.7 457.0 619.8 454.0 620.0 451.0C620.1 448.0 620.2 445.0 620.4 442.0C620.5 439.0 620.6 436.0 620.7 433.0C620.9 429.9 621.0 426.9 621.1 423.9C621.2 420.9 621.3 417.9 621.4 414.9C621.5 411.8 621.6 408.8 621.7 405.8C621.8 402.8 621.9 399.8 622.0 396.7C622.1 393.7 622.2 390.7 622.3 387.7C622.4 384.7 622.4 381.6 622.5 378.6C622.6 375.6 622.7 372.6 622.8 369.6C622.9 366.5 623.0 363.5 623.1 360.5C623.2 357.5 623.2 354.5 623.3 351.5C623.4 348.4 623.5 345.4 623.6 342.4C623.7 339.4 623.8 336.4 623.9 333.4C624.0 330.4 624.1 327.4 624.2 324.4C624.3 321.4 624.5 318.4 624.6 315.4C624.7 312.4 624.8 309.4 624.9 306.4C625.0 303.4 625.2 300.4 625.3 297.4C625.4 294.5 625.6 291.5 625.7 288.5C625.9 285.5 626.0 282.5 626.2 279.6C626.3 276.6 626.5 273.6 626.7 270.6C626.8 267.6 627.0 264.7 627.2 261.7C627.4 258.7 627.6 255.7 627.7 252.7C627.9 249.8 628.1 246.8 628.3 243.8C628.5 240.8 628.7 237.8 629.0 234.8C629.2 231.8 629.4 228.8 629.6 225.8C629.8 222.8 630.1 219.7 630.3 216.7C630.5 213.7 630.8 210.7 631.0 207.6C631.3 204.6 631.5 201.5 631.8 198.5C632.1 195.4 632.4 192.3 632.7 189.3C633.0 186.2 633.3 183.1 633.6 180.1C634.0 177.0 634.3 174.0 634.7 170.9C635.2 167.8 635.6 164.8 636.1 161.8C636.6 158.7 637.1 155.7 637.7 152.7C638.3 149.7 639.0 146.7 639.7 143.8C640.4 140.8 641.2 137.9 642.0 134.9C642.8 132.0 643.8 129.1 644.8 126.3C645.7 123.4 646.8 120.6 648.0 117.8C649.1 115.1 650.3 112.3 651.6 109.6C653.0 106.9 654.3 104.3 655.8 101.7C657.3 99.2 658.8 96.6 660.4 94.2C662.1 91.7 663.8 89.4 665.6 87.1C667.3 84.8 669.2 82.5 671.2 80.4C673.1 78.3 675.1 76.2 677.2 74.3C679.4 72.3 681.6 70.4 683.8 68.7C686.1 66.9 688.5 65.3 690.9 63.7C693.4 62.2 695.9 60.8 698.5 59.4C701.1 58.1 703.8 56.9 706.5 55.8C709.2 54.7 712.0 53.6 714.9 52.7C717.7 51.8 720.6 50.9 723.5 50.1C726.5 49.4 729.5 48.7 732.5 48.1C735.5 47.5 738.5 47.0 741.5 46.6C744.6 46.1 747.7 45.7 750.8 45.4C753.8 45.1 756.9 44.9 760.0 44.7C763.1 44.5 766.2 44.4 769.3 44.4C772.4 44.3 775.4 44.3 778.5 44.3C781.6 44.4 784.6 44.5 787.7 44.7C790.8 44.8 793.8 45.1 796.8 45.3C799.9 45.6 802.9 46.0 805.9 46.3C809.0 46.7 812.0 47.2 815.0 47.7C818.0 48.2 821.0 48.7 823.9 49.3C826.9 49.9 829.9 50.5 832.8 51.2C835.7 51.9 838.7 52.7 841.6 53.5C844.5 54.3 847.4 55.1 850.3 56.0C853.1 56.9 856.0 57.9 858.8 58.9C861.7 59.8 864.5 60.9 867.3 62.0C870.1 63.1 872.9 64.2 875.6 65.4C878.4 66.5 881.1 67.7 883.8 69.0C886.5 70.3 889.2 71.6 891.8 72.9C894.5 74.3 897.1 75.7 899.7 77.1C902.3 78.5 904.9 80.0 907.4 81.5" stroke="#000080" stroke-width="8" stroke-linecap="round" stroke-dasharray="21.5 24.0 2.6 22.4 2.6 23.6 21.5 22.8 2.6 22.6 2.6 28.2 21.5 31.5 2.6 24.2 2.6 24.9 21.5 24.2 2.6 23.2 2.6 23.6 21.5 23.3 2.6 22.6 2.6 24.7 21.5 22.2 2.6 24.0 2.6 24.4 21.5 26.4 2.6 27.4 2.6 24.8 21.5 26.1 2.6 23.4 2.6 23.0 21.5 26.8 2.6 22.8 2.6 25.6 21.5 21.5 2.6 22.4 2.6 23.4 21.5 23.5 2.6 19.6 2.6 16.8 21.5 25.0 2.6 22.4 2.6 22.4 21.5 23.5 2.6 22.4 2.6 23.0 21.5 23.0 2.6 23.6 2.6 22.6 21.5 23.1 2.6 24.2 2.6 26.1 21.5 30.8 2.6 24.6 2.6 23.8 21.5 22.5 2.6 22.0 2.6 23.6 21.5 25.8 2.6 23.4 2.6 5000.0"/>
</g>
<g class="ax" font-size="32.5" text-anchor="end">
<text x="136.5" y="24.5">0</text>
<text x="136.5" y="147.0">-5</text>
<text x="136.5" y="270.2">-10</text>
<text x="136.5" y="393.3">-15</text>
<text x="136.5" y="516.5">-20</text>
<text x="136.5" y="639.6">-25</text>
</g>
<g class="ax" font-size="32.5" text-anchor="middle">
<text x="155.3" y="675">2.0</text>
<text x="249.4" y="675">2.5</text>
<text x="343.5" y="675">3.0</text>
<text x="437.6" y="675">3.5</text>
<text x="531.6" y="675">4.0</text>
<text x="625.7" y="675">4.5</text>
<text x="719.8" y="675">5.0</text>
<text x="813.9" y="675">5.5</text>
<text x="908.0" y="675">6.0</text>
</g>
<text class="ax" font-size="34" text-anchor="middle" x="531.5" y="734">Frequency(GHz)</text>
<text class="ax" font-size="35.8" text-anchor="middle" transform="translate(48 332.6) rotate(-90)">S11(dB)</text>
<rect x="682.1" y="319.8" width="200.8" height="217.6" fill="#fff" stroke="#222" stroke-width="1.4"/>
<clipPath id="lg"><rect x="682.8" y="320" width="199" height="217"/></clipPath>
<g fill="none" clip-path="url(#lg)">
<path d="M680 345.3 H749" stroke="#ff00ff" stroke-width="8.3" stroke-linecap="round"/>
<path d="M684.5 389.0 H749.5" stroke="#ff0000" stroke-width="4.6" stroke-linecap="round"/>
<path d="M685 432.6 H749.5" stroke="#ff8000" stroke-width="4.5" stroke-linecap="round"/>
<path d="M685 476.0 H711.7 M728.6 476.0 H732.6" stroke="#008080" stroke-width="6" stroke-linecap="round"/>
<path d="M686 520.0 H708.7 M729.6 520.0 H733.6" stroke="#000080" stroke-width="8" stroke-linecap="round"/>
</g>
<g class="ax" font-size="34.5">
<text x="758.3" y="354.9">Stage 1</text>
<text x="758.3" y="398.6">Stage 2</text>
<text x="758.3" y="442.2">Stage 3</text>
<text x="758.3" y="485.6">Stage 4</text>
<text x="758.3" y="529.6">Stage 5</text>
</g>
<rect x="1.4" y="772.1" width="288.9" height="100.0" fill="#000"/>
<rect x="22.2" y="804.5" width="239.3" height="39.5" fill="#fff"/>
<rect x="304.1" y="781.2" width="360.7" height="88.4" fill="#000"/>
<rect x="326.0" y="807.6" width="264.9" height="42.3" fill="#fff"/>
<path d="M590 828.7 H652.9" stroke="#fff" stroke-width="4.2" fill="none"/>
<rect x="679.3" y="786.3" width="340.9" height="85.4" fill="#000"/>
<rect x="687.7" y="797.2" width="264.7" height="42.6" fill="#fff"/>
<path d="M952 818.6 H1012.3 V852.4 H874" stroke="#fff" stroke-width="4.3" fill="none"/>
<rect x="124.1" y="925.3" width="367.3" height="102.1" fill="#000"/>
<rect x="134.3" y="942.8" width="280.5" height="45.3" fill="#fff"/>
<path d="M414 965.6 H477.8 V1020.4 H422.3 M477.8 1001.6 H331.1" stroke="#fff" stroke-width="4.6" fill="none"/>
<rect x="505.1" y="930.9" width="389.5" height="100.1" fill="#000"/>
<rect x="523.7" y="946.1" width="293.9" height="35.9" fill="#fff"/>
<path d="M817 963 H883.9 V1007.3 H828.5 V1021.9 M883.9 992.5 H729.6 M826.4 1007.3 H830" stroke="#fff" stroke-width="4.2" fill="none"/>
<g class="st" font-size="45" text-anchor="middle" stroke="#000" stroke-width="0.35">
<text transform="translate(147.9 915.4) scale(1 1.055)">Stage 1</text>
<text transform="translate(504.9 914.6) scale(1 1.055)">Stage 2</text>
<text transform="translate(860.1 915.7) scale(1 1.055)">Stage 3</text>
<text transform="translate(301.8 1072.5) scale(1 1.055)">Stage 4</text>
<text transform="translate(707.6 1073.0) scale(1 1.055)">Stage 5</text>
</g>
</svg>
</body></html>
